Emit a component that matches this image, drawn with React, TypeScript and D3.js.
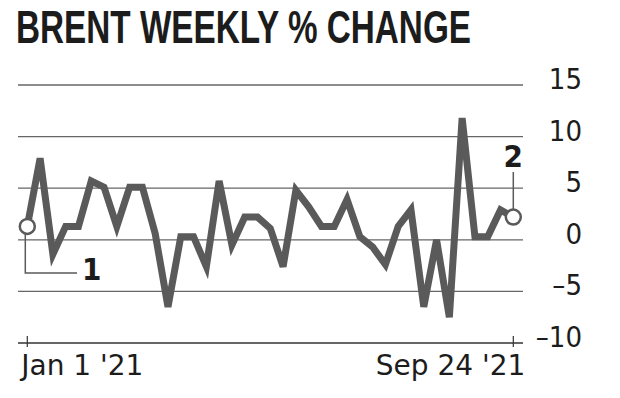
import React, { useLayoutEffect, useRef, useState } from 'react'
import * as d3 from 'd3'

// weekly % change in Brent, Jan 1 '21 .. Sep 24 '21
const weeklyChange = [
  1.3, 7.9, -1.4, 1.3, 1.3, 5.7, 5.1, 1.3, 5.1, 5.1,
  0.6, -6.5, 0.3, 0.3, -2.6, 5.7, -0.5, 2.2, 2.2, 1.1,
  -2.6, 4.8, 3.2, 1.3, 1.3, 3.9, 0.3, -0.7, -2.4, 1.3,
  2.9, -6.5, 0, -7.5, 11.8, 0.3, 0.3, 2.9, 2.2,
]
const yTicks = [15, 10, 5, 0, -5, -10]
const xTickLabels = ["Jan 1 '21", "Sep 24 '21"]
const callouts = ['1', '2']

const W = 620
const H = 398
const title = 'BRENT WEEKLY % CHANGE'
const titleWidth = 455
const ink = '#1c1c1c'
const lineGray = '#5a5a5a'
const condensed = '"DejaVu Sans Condensed", "DejaVu Sans", "Liberation Sans Narrow", sans-serif'
const plain = '"DejaVu Sans", sans-serif'

export default function App() {
  const titleRef = useRef<SVGTextElement>(null)
  const [titleScale, setTitleScale] = useState(0.74)

  useLayoutEffect(() => {
    const el = titleRef.current
    if (!el) return
    const w = el.getComputedTextLength()
    if (w > 0) setTitleScale(titleWidth / w)
  }, [])

  const n = weeklyChange.length
  const x = d3.scaleLinear().domain([0, n - 1]).range([27.3, 513.3])
  const y = d3.scaleLinear().domain([-10, 15]).range([343, 85])
  const gridLeft = 18
  const gridRight = 523

  const line = d3.line<number>().x((_, i) => x(i)).y(d => y(d))

  const first = { cx: x(0), cy: y(weeklyChange[0]) }
  const last = { cx: x(n - 1), cy: y(weeklyChange[n - 1]) }
  const r = 7.5

  return (
    <svg width={W} height={H} style={{ position: 'absolute', left: 0, top: 0, background: '#fff' }}>
      <g transform={`translate(16,43) scale(${titleScale},1)`}>
        <text ref={titleRef} x={0} y={0} fontFamily='"Liberation Sans", "DejaVu Sans", sans-serif'
          fontWeight="bold" fontSize={46} fill={ink}>
          {title}
        </text>
      </g>

      {yTicks.filter(t => t > -10).map(t => (
        <line key={t} x1={gridLeft} x2={gridRight} y1={y(t)} y2={y(t)} stroke="#666" strokeWidth={1.3} />
      ))}
      {yTicks.map(t => (
        <text key={'l' + t} x={582} y={y(t) + 4} textAnchor="end" fontFamily={condensed}
          fontStretch="condensed" fontSize={29} fill={ink}>
          {t < 0 ? '\u2013' + Math.abs(t) : t}
        </text>
      ))}

      {/* x axis */}
      <line x1={gridLeft} x2={gridRight} y1={y(-10)} y2={y(-10)} stroke="#333" strokeWidth={1.3} />
      {[0, n - 1].map(i => (
        <line key={i} x1={x(i)} x2={x(i)} y1={y(-10) - 7} y2={y(-10) + 4} stroke="#333" strokeWidth={1.2} />
      ))}
      <text x={x(0) - 6} y={375} fontFamily={plain} fontSize={28} fill={ink}>
        {xTickLabels[0]}
      </text>
      <text x={x(n - 1) + 12} y={375} textAnchor="end" fontFamily={plain} fontSize={28} fill={ink}>
        {xTickLabels[1]}
      </text>

      <path d={line(weeklyChange) || ''} fill="none" stroke={lineGray} strokeWidth={7} strokeLinejoin="miter" />

      {/* callout 1 */}
      <polyline points={`${first.cx - 2},${first.cy + r} ${first.cx - 2},273 77,273`} fill="none"
        stroke={lineGray} strokeWidth={1.5} />
      <circle cx={first.cx} cy={first.cy} r={r} fill="#fff" stroke={lineGray} strokeWidth={2.5} />
      <text x={82} y={280} fontFamily={condensed} fontWeight="bold" fontSize={31} fill={ink}>{callouts[0]}</text>

      {/* callout 2 */}
      <line x1={last.cx} x2={last.cx} y1={last.cy - r} y2={172} stroke={lineGray} strokeWidth={1.5} />
      <circle cx={last.cx} cy={last.cy} r={r} fill="#fff" stroke={lineGray} strokeWidth={2.5} />
      <text x={last.cx} y={167} textAnchor="middle" fontFamily={condensed} fontWeight="bold" fontSize={31}
        fill={ink}>{callouts[1]}</text>
    </svg>
  )
}
